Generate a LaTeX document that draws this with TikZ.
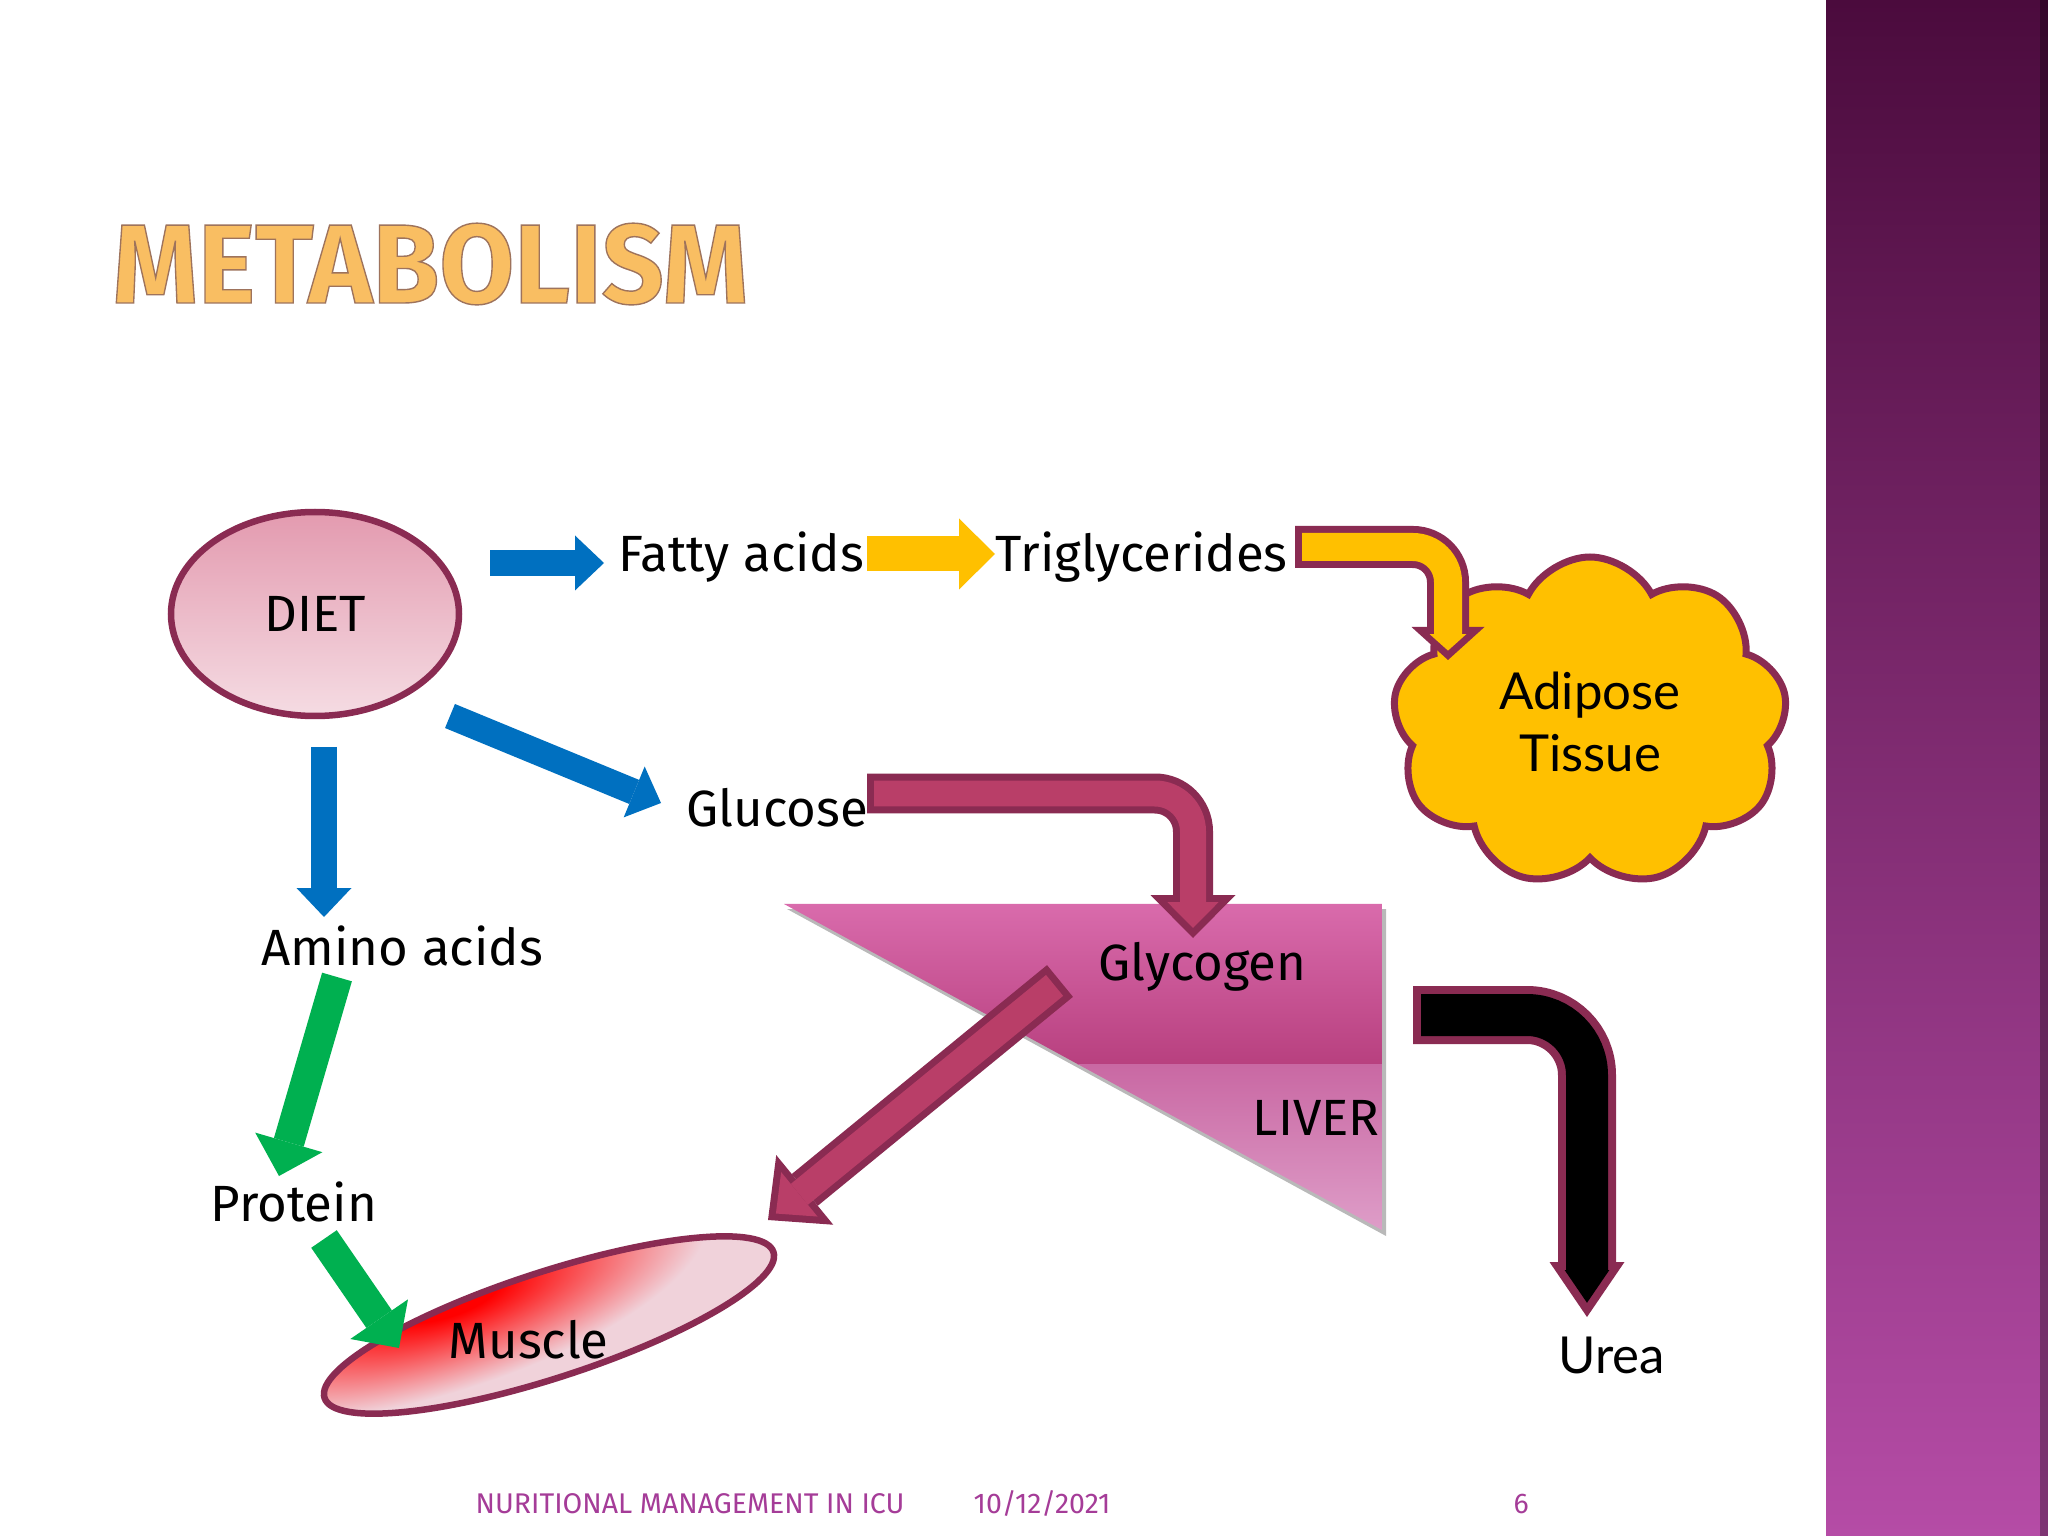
\documentclass[tikz,border=0pt]{standalone}
\usepackage{fontspec}
\setmainfont{Fira Sans}
\newfontfamily\cloudfont{Lato}
\usetikzlibrary{arrows.meta,shapes.geometric,shapes.symbols}

\definecolor{edgemaroon}{HTML}{8A2B52}
\definecolor{dietpink}{HTML}{E39AAF}
\definecolor{dietpale}{HTML}{F5DCE3}
\definecolor{flowblue}{HTML}{0070C0}
\definecolor{flowgreen}{HTML}{00B050}
\definecolor{fatyellow}{HTML}{FFC000}
\definecolor{glucosered}{HTML}{B93E68}
\definecolor{liverhi}{HTML}{D96BAC}
\definecolor{liverlo}{HTML}{B8407F}
\definecolor{liverpale}{HTML}{C968A3}
\definecolor{liverfade}{HTML}{DE9DC8}
\definecolor{musclepale}{HTML}{F0D2DA}
\definecolor{titleorange}{HTML}{F9BE62}
\definecolor{footpurple}{HTML}{A53C98}
\definecolor{bandtop}{HTML}{4B0B3D}
\definecolor{bandmid}{HTML}{8E3A84}
\definecolor{bandbot}{HTML}{B54CA6}

\pgfdeclareradialshading{musclered}{\pgfpoint{0bp}{0bp}}{color(0bp)=(red); color(4bp)=(red); color(20bp)=(musclepale); color(50bp)=(musclepale)}

\tikzset{
  lbl/.style={anchor=base west, inner sep=0pt, font=\fontsize{14.5}{17.4}\selectfont},
  footer/.style={anchor=base west, inner sep=0pt, text=footpurple, font=\fontsize{8.1}{10}\selectfont},
  bluearrow/.style={draw=flowblue, line width=0.26cm, -{Triangle[width=0.55cm,length=0.29cm,line width=0pt]}},
  greenarrow/.style={draw=flowgreen, line width=0.31cm, -{Triangle[width=0.70cm,length=0.35cm,line width=0pt]}},
  yellowarrow/.style={draw=fatyellow, line width=0.35cm, -{Triangle[width=0.71cm,length=0.36cm,line width=0pt]}}
}

\begin{document}
\begin{tikzpicture}
    \useasboundingbox (0,0) rectangle (20.48,-15.36);
    \fill[white] (0,0) rectangle (20.48,-15.36);

    % Side band
    \shade[top color=bandtop, middle color=bandmid, bottom color=bandbot] (18.26,0) rectangle (20.48,-15.36);
    \fill[black, opacity=0.3] (20.40,0) rectangle (20.48,-15.36);

    % Title
    \node[anchor=base west, inner sep=0pt, font=\fontsize{32}{38}\selectfont\bfseries] (title) at (1.12,-3.03)
        {\scalebox{0.965}[1]{\color{titleorange}\special{pdf:literal direct 2 Tr 0.4 w 0.62 0.45 0.36 RG}METABOLISM\special{pdf:literal direct 0 Tr}}};

    % Liver
    \fill[gray, opacity=0.55] (7.87,-9.09) -- (13.86,-9.09) -- (13.86,-12.36) -- cycle;
    \begin{scope}
        \clip (7.84,-9.04) -- (13.82,-9.04) -- (13.82,-12.30) -- cycle;
        \shade[top color=liverhi, bottom color=liverlo] (7.84,-9.04) rectangle (13.82,-10.64);
        \shade[top color=liverpale, bottom color=liverfade] (7.84,-10.64) rectangle (13.82,-12.30);
    \end{scope}

    % Nodes
    \node[ellipse, draw=edgemaroon, line width=0.065cm, top color=dietpink, bottom color=dietpale,
          minimum width=2.88cm, minimum height=2.04cm, font=\fontsize{14.5}{17.4}\selectfont] (diet) at (3.15,-6.14) {DIET};
    \node[lbl] (fatty) at (6.18,-5.72) {Fatty acids};
    \node[lbl] (trig) at (9.95,-5.72) {Triglycerides};
    \node[lbl] (glucose) at (6.86,-8.27) {Glucose};
    \node[lbl] (amino) at (2.61,-9.65) {Amino acids};
    \node[lbl] (protein) at (2.10,-12.21) {Protein};
    \node[lbl] (glycogen) at (10.98,-9.80) {Glycogen};
    \node[lbl] (liver) at (12.52,-11.35) {LIVER};
    \node[cloud, cloud puffs=9, cloud puff arc=125, cloud ignores aspect, draw=edgemaroon, fill=fatyellow,
          line width=0.07cm, minimum width=3.95cm, minimum height=3.3cm, align=center,
          font=\cloudfont\fontsize{14.5}{17.6}\selectfont] (adipose) at (15.9,-7.22) {Adipose\\Tissue};
    \node[lbl, font=\cloudfont\fontsize{14.5}{17.4}\selectfont] (urea) at (15.58,-13.73) {Urea};

    % Muscle
    \begin{scope}[transform canvas={rotate around={18:(5.49,-13.25)}}]
        \fill[musclepale] (5.49,-13.25) ellipse [x radius=2.36cm, y radius=0.53cm];
        \clip (5.49,-13.25) ellipse [x radius=2.36cm, y radius=0.53cm];
        \shade[shading=musclered] (4.6,-12.68) ellipse [x radius=3.4cm, y radius=1.15cm];
    \end{scope}
    \draw[transform canvas={rotate around={18:(5.49,-13.25)}}, draw=edgemaroon, line width=0.065cm]
        (5.49,-13.25) ellipse [x radius=2.36cm, y radius=0.53cm];
    \node[lbl] (muscle) at (4.48,-13.58) {Muscle};

    % Blue arrows from diet
    \coordinate (dfS) at (4.90,-5.63);
    \coordinate (dfE) at (6.04,-5.63);
    \coordinate (dgS) at (4.50,-7.16);
    \coordinate (dgE) at (6.61,-8.03);
    \coordinate (daS) at (3.24,-7.47);
    \coordinate (daE) at (3.24,-9.17);
    \draw[bluearrow] (dfS) -- (dfE);
    \draw[bluearrow] (dgS) -- (dgE);
    \draw[bluearrow] (daS) -- (daE);

    % Fatty acids to triglycerides
    \coordinate (ftS) at (8.67,-5.54);
    \coordinate (ftE) at (9.95,-5.54);
    \draw[yellowarrow] (ftS) -- (ftE);

    % Green arrows
    \coordinate (apS) at (3.37,-9.77);
    \coordinate (apE) at (2.79,-11.76);
    \coordinate (pmS) at (3.24,-12.39);
    \coordinate (pmE) at (3.99,-13.48);
    \draw[greenarrow] (apS) -- (apE);
    \draw[greenarrow] (pmS) -- (pmE);

    % Triglycerides to adipose tissue
    \coordinate (taS) at (12.95,-5.47);
    \coordinate (taC) at (14.48,-5.47);
    \coordinate (taE) at (14.48,-6.60);
    \draw[rounded corners=0.35cm, draw=edgemaroon, line width=0.42cm,
          -{Triangle[width=0.73cm,length=0.33cm,line width=0pt]}] (taS) -- (taC) -- (taE);
    \draw[rounded corners=0.35cm, draw=fatyellow, line width=0.28cm, shorten <=0.07cm, shorten >=0.094cm,
          -{Triangle[width=0.37cm,length=0.166cm,line width=0pt]}] (taS) -- (taC) -- (taE);

    % Glucose to glycogen
    \coordinate (ggS) at (8.67,-7.935);
    \coordinate (ggC) at (11.93,-7.935);
    \coordinate (ggE) at (11.93,-9.38);
    \draw[rounded corners=0.38cm, draw=edgemaroon, line width=0.40cm,
          -{Triangle[width=0.85cm,length=0.43cm,line width=0pt]}] (ggS) -- (ggC) -- (ggE);
    \draw[rounded corners=0.38cm, draw=glucosered, line width=0.26cm, shorten <=0.07cm, shorten >=0.10cm,
          -{Triangle[width=0.514cm,length=0.26cm,line width=0pt]}] (ggS) -- (ggC) -- (ggE);

    % Glycogen to muscle
    \coordinate (gmS) at (10.60,-9.81);
    \coordinate (gmE) at (7.68,-12.20);
    \draw[draw=edgemaroon, line width=0.41cm,
          -{Triangle[width=0.90cm,length=0.475cm,line width=0pt]}] (gmS) -- (gmE);
    \draw[draw=glucosered, line width=0.27cm, shorten <=0.07cm, shorten >=0.102cm,
          -{Triangle[width=0.574cm,length=0.303cm,line width=0pt]}] (gmS) -- (gmE);

    % Liver to urea
    \coordinate (luS) at (14.13,-10.15);
    \coordinate (luC) at (15.87,-10.15);
    \coordinate (luE) at (15.87,-13.17);
    \draw[rounded corners=0.6cm, draw=edgemaroon, line width=0.58cm,
          -{Triangle[width=0.75cm,length=0.55cm,line width=0pt]}] (luS) -- (luC) -- (luE);
    \draw[rounded corners=0.6cm, draw=black, line width=0.42cm, shorten <=0.08cm, shorten >=0.142cm,
          -{Triangle[width=0.448cm,length=0.328cm,line width=0pt]}] (luS) -- (luC) -- (luE);

    % Footer
    \node[footer] (ftitle) at (4.75,-15.13) {NURITIONAL MANAGEMENT IN ICU};
    \node[footer] (fdate) at (9.73,-15.13) {10/12/2021};
    \node[footer] (fpage) at (15.13,-15.13) {6};
\end{tikzpicture}
\end{document}
